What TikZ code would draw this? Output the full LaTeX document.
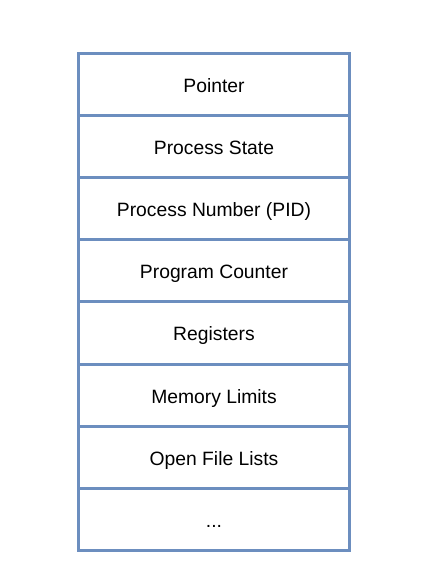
\documentclass[tikz,border=0pt]{standalone}
\usepackage{fontspec}
\setmainfont{Liberation Sans}
\usetikzlibrary{positioning}
\usetikzlibrary{matrix}
\definecolor{pBlue}{HTML}{6C8EBF}
\definecolor{pText}{HTML}{000000}

\begin{document}
\begin{tikzpicture}[x=1pt, y=1pt,
    field/.style = {draw=pBlue, fill=white, line width=3pt, minimum width=271pt, minimum height=62.1pt, inner sep=0pt, outer sep=0pt, text=pText, text height=19pt, text depth=3pt, font=\fontsize{19.3pt}{23pt}\selectfont},
    ]

    \useasboundingbox (0,0) rectangle (440,-588);

    \matrix[matrix of nodes, row sep=-3pt, inner sep=0pt, outer sep=0pt, nodes={field}, anchor=north] (pcb) at (214,-52) {
      Pointer \\
      Process State \\
      Process Number (PID) \\
      Program Counter \\
      Registers \\
      Memory Limits \\
      Open File Lists \\
      ... \\
    };

\end{tikzpicture}
\end{document}
